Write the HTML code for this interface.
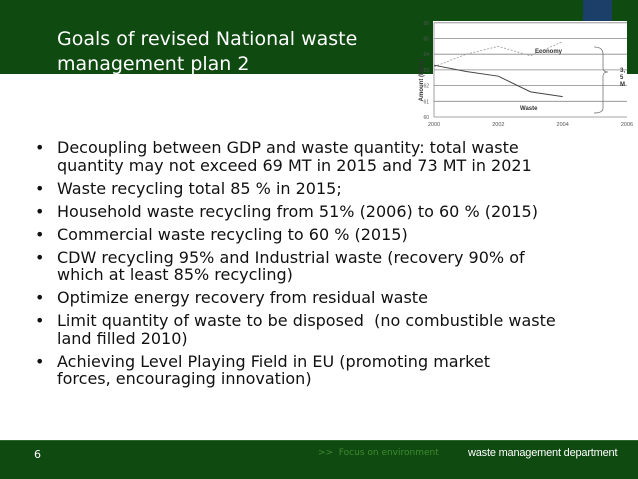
<!DOCTYPE html>
<html><head><meta charset="utf-8"><style>
body{margin:0;width:638px;height:478px;position:relative;overflow:hidden;background:#fff;font-family:"DejaVu Sans",Verdana,sans-serif}
#hdr{position:absolute;left:0;top:0;width:638px;height:74px;background:#0f4a11}
#title{position:absolute;left:57px;top:27px;color:#fff;font-size:19px;line-height:25px}
ul{position:absolute;left:35px;top:139px;width:526px;margin:0;padding:0;list-style:none;font-size:16px;line-height:17.5px;color:#111}
li{position:relative;padding-left:22px;margin-bottom:5.5px}
li:before{content:"•";position:absolute;left:0}
#ftr{position:absolute;left:0;top:440px;width:638px;height:38px;background:#0f4a11;border-top:1px solid #2a6a2a}
</style></head><body>
<div id="hdr"></div>
<div id="title">Goals of revised National waste<br>management plan 2</div>
<svg id="chart" width="638" height="135" style="position:absolute;left:0;top:0" font-family="Liberation Sans,sans-serif"></svg>
<ul>
<li>Decoupling between GDP and waste quantity: total waste quantity may not exceed 69 MT in 2015 and 73 MT in 2021</li>
<li>Waste recycling total 85 % in 2015;</li>
<li>Household waste recycling from 51% (2006) to 60 % (2015)</li>
<li>Commercial waste recycling to 60 % (2015)</li>
<li>CDW recycling 95% and Industrial waste (recovery 90% of which at least 85% recycling)</li>
<li>Optimize energy recovery from residual waste</li>
<li>Limit quantity of waste to be disposed &nbsp;(no combustible waste land filled 2010)</li>
<li>Achieving Level Playing Field in EU (promoting market<br>forces, encouraging innovation)</li>
</ul>
<div id="ftr">
<span style="position:absolute;left:34px;top:7px;color:#fff;font-size:11px">6</span>
<span style="position:absolute;left:318px;top:7px;color:#3f8a2f;font-size:9px">&gt;&gt; &nbsp;Focus on environment</span>
<span style="position:absolute;left:468px;top:6px;color:#fff;font-size:11px;letter-spacing:-0.2px;font-family:'Liberation Sans',sans-serif">waste management department</span>
</div>
<script>
const years=[2000,2001,2002,2003,2004];
const economy=[63.2,64.0,64.5,63.9,64.8];
const waste=[63.3,62.9,62.6,61.6,61.3];
const yTicks=[60,61,62,63,64,65,66];
const xTicks=[2000,2002,2004,2006];
const ns="http://www.w3.org/2000/svg",svg=document.getElementById('chart');
const X=v=>434+(v-2000)/6*193, Y=v=>117-(v-60)*15.7;
function mk(t,a,p){const e=document.createElementNS(ns,t);for(const k in a)e.setAttribute(k,a[k]);(p||svg).appendChild(e);return e;}
const bg=mk('rect',{x:433,y:21,width:194,height:104,fill:'#fff'});


const bl=mk('rect',{x:583,y:0,width:29,height:21,fill:'#1c3f6a'});


yTicks.forEach(v=>{const l=mk('line',{x1:434,x2:627,y1:Y(v),y2:Y(v),stroke:'#888','stroke-width':0.8});


const t=mk('text',{x:429,y:Y(v)+2,'font-size':5,'text-anchor':'end',fill:'#555'});t.textContent=v;

});
mk('line',{x1:434,x2:434,y1:Y(66),y2:Y(60),stroke:'#888','stroke-width':0.8});
xTicks.forEach(v=>{const t=mk('text',{x:X(v),y:126,'font-size':5.5,'text-anchor':'middle',fill:'#555'});t.textContent=v;

});
const yt=mk('text',{x:423,y:80,'font-size':6,'font-weight':'bold',transform:'rotate(-90 423 80)','text-anchor':'middle',fill:'#333'});yt.textContent='Amount (Mton)';


const pe=mk('polyline',{points:years.map((y,i)=>X(y)+','+Y(economy[i])).join(' '),fill:'none',stroke:'#999','stroke-width':0.8,'stroke-dasharray':'2,1.5'});


const pw=mk('polyline',{points:years.map((y,i)=>X(y)+','+Y(waste[i])).join(' '),fill:'none',stroke:'#444','stroke-width':1});


const le=mk('text',{x:535,y:53,'font-size':6,'font-weight':'bold',fill:'#333'});le.textContent='Economy';


const lw=mk('text',{x:520,y:110,'font-size':6,'font-weight':'bold',fill:'#333'});lw.textContent='Waste';


const br=mk('path',{d:'M594 47 Q603 47 603 54 L603 68 Q603 72 608 72 Q603 72 603 76 L603 108 Q603 113 594 113',fill:'none',stroke:'#777','stroke-width':0.8});


['3,','5','M'].forEach((s,i)=>{const t=mk('text',{x:620,y:72+i*7,'font-size':6,'font-weight':'bold',fill:'#333'});t.textContent=s;

});
</script>
</body></html>
